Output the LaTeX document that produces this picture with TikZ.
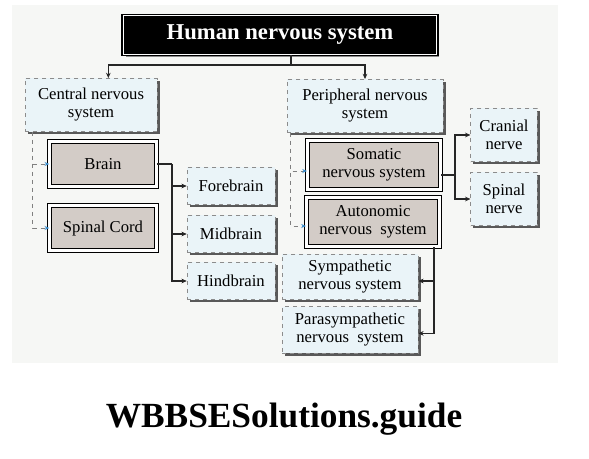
\documentclass[tikz,border=0pt]{standalone}
\usepackage{fontspec}
\setmainfont{Liberation Serif}
\usetikzlibrary{shadows,arrows.meta}
\definecolor{paleblue}{HTML}{EAF4F8}
\definecolor{boxgrey}{HTML}{D3CCC7}
\definecolor{linkblue}{HTML}{3A8FD0}
\definecolor{photo}{HTML}{F6F7F5}

\begin{document}
\begin{tikzpicture}[x=0.75pt, y=-0.75pt,
    font=\fontsize{12.5}{13.5}\selectfont,
    lightbox/.style={draw=black!45, dashed, fill=paleblue, align=center, inner sep=2pt,
      general shadow={fill=black!65, shadow xshift=2pt, shadow yshift=-2pt}},
    greybox/.style={draw=black, line width=0.7pt, double=white, double distance=2pt, fill=boxgrey,
      align=center, inner sep=2pt,
      general shadow={fill=black!65, shadow xshift=2pt, shadow yshift=-2pt}},
    titlebox/.style={draw=black, line width=1pt, double=white, double distance=1.2pt, fill=black,
      text=white, font=\bfseries\fontsize{17}{20}\selectfont,
      general shadow={fill=black!45, shadow xshift=2pt, shadow yshift=-2pt}},
    wire/.style={draw=black!85, line width=0.8pt},
    link/.style={wire, -{Stealth[length=4pt,width=3.5pt]}},
    bluelink/.style={draw=black!50, dashed, line width=0.5pt, -{Stealth[length=3.5pt,width=3pt,linkblue]}}]
  \useasboundingbox (0,0) rectangle (589,458);
  \fill[photo] (12,5) rectangle (558,363);

  \node[titlebox, minimum width=235pt, minimum height=29pt] (title) at (280,35) {Human nervous system};

  \node[lightbox, minimum width=99pt, minimum height=40pt] (cns) at (91,105) {Central nervous\\system};
  \node[greybox, minimum width=80pt, minimum height=34pt] (brain) at (103,164) {Brain};
  \node[greybox, minimum width=80pt, minimum height=34pt] (cord) at (103,228) {Spinal Cord};
  \node[lightbox, minimum width=66pt, minimum height=28pt] (fore) at (231,186) {Forebrain};
  \node[lightbox, minimum width=66pt, minimum height=28pt] (mid) at (231,234) {Midbrain};
  \node[lightbox, minimum width=66pt, minimum height=28pt] (hind) at (231,281) {Hindbrain};

  \node[lightbox, minimum width=117pt, minimum height=40pt] (pns) at (365,106) {Peripheral nervous\\system};
  \node[greybox, minimum width=100pt, minimum height=37pt] (somatic) at (374,165) {Somatic\\nervous system};
  \node[greybox, minimum width=100pt, minimum height=37pt] (auto) at (373,222) {Autonomic\\nervous\ \ system};
  \node[lightbox, minimum width=50pt, minimum height=40pt] (cranial) at (504,135) {Cranial\\nerve};
  \node[lightbox, minimum width=50pt, minimum height=40pt] (spnerve) at (504,199) {Spinal\\nerve};
  \node[lightbox, minimum width=102pt, minimum height=34pt] (symp) at (350,277) {Sympathetic\\nervous system};
  \node[lightbox, minimum width=102pt, minimum height=35pt] (para) at (350,330) {Parasympathetic\\nervous\ \ system};

  \node[font=\bfseries\fontsize{26.5}{30}\selectfont, anchor=base] (site) at (284,427) {WBBSESolutions.guide};

  % title to the two branches
  \coordinate (tj) at (291,65);
  \draw[wire] (title.south -| tj) -- (tj);
  \draw[link] (tj) -| ([xshift=13pt]cns.north);
  \draw[link] (tj) -| (pns.north);

  % central side
  \coordinate (cl) at ([xshift=6pt]cns.south west);
  \draw[bluelink] (cl) |- (brain.west);
  \draw[bluelink] (cl) |- (cord.west);
  \coordinate (bj) at (172,164);
  \draw[wire] (brain.east) -- (bj);
  \foreach \part in {fore, mid, hind}
    \draw[link] (bj) |- (\part.west);

  % peripheral side
  \coordinate (pl) at ([xshift=3pt]pns.south west);
  \draw[bluelink] (pl) |- ([yshift=-4.5pt]somatic.west);
  \draw[bluelink] (pl) |- ([yshift=-3pt]auto.west);
  \coordinate (sj) at (455,175);
  \draw[wire] (sj -| somatic.east) -- (sj);
  \draw[link] (sj) |- (cranial.west);
  \draw[link] (sj) |- (spnerve.west);
  \coordinate (aj) at (434,247);
  \draw[link] (auto.south -| aj) |- ([yshift=-3pt]symp.east);
  \draw[link] (auto.south -| aj) |- ([yshift=-2.5pt]para.east);
\end{tikzpicture}
\end{document}
